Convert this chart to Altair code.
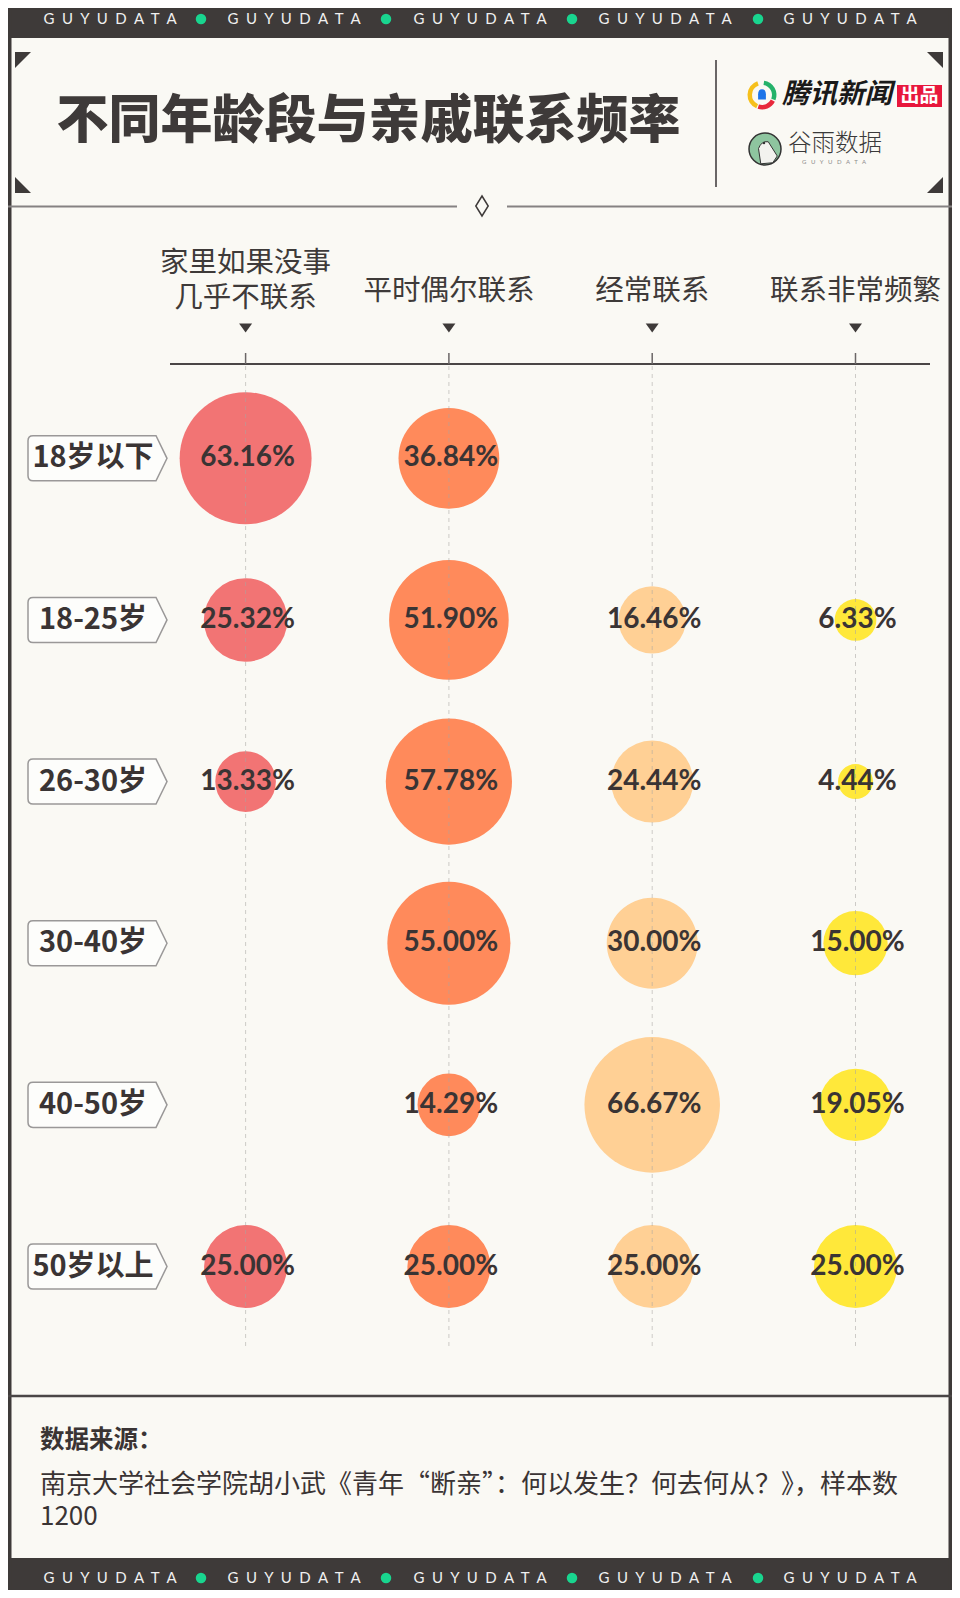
import math
import altair as alt
import pandas as pd

# ---------------- data ----------------
ages = ['18岁以下', '18-25岁', '26-30岁', '30-40岁', '40-50岁', '50岁以上']
cats = ['家里如果没事几乎不联系', '平时偶尔联系', '经常联系', '联系非常频繁']
header_wrapped = ['家里如果没事\n几乎不联系']
header_single = ['平时偶尔联系', '经常联系', '联系非常频繁']
cat_colors = ['#F27474', '#FF8A5B', '#FFD095', '#FFE83A']

v_rarely = [63.16, 25.32, 13.33, None, None, 25.00]
v_sometimes = [36.84, 51.90, 57.78, 55.00, 14.29, 25.00]
v_often = [None, 16.46, 24.44, 30.00, 66.67, 25.00]
v_very = [None, 6.33, 4.44, 15.00, 19.05, 25.00]

title = '不同年龄段与亲戚联系频率'
source_head = '数据来源：'
source_body = '南京大学社会学院胡小武《青年“断亲”：何以发生？何去何从？》，样本数\n1200'
brand = 'GUYUDATA'

# ---------------- geometry helpers (page px -> chart px; page has an 8px margin) ----------------
W, H = 944, 1582
M = 8


def X(v):
    return min(max(v - M, 0), W)


def Y(v):
    return min(max(v - M, 0), H)


DARK = '#3E3A39'
BG = '#FAF9F4'
TEXT = '#3A3434'
CJK = 'Noto Sans CJK SC'

rows = []
for c, vals in zip(cats, [v_rarely, v_sometimes, v_often, v_very]):
    for a, v in zip(ages, vals):
        if v is not None:
            rows.append({'cat': c, 'age': a, 'v': v, 'label': f'{v:.2f}%'})
df = pd.DataFrame(rows)
cat_df = pd.DataFrame({'cat': cats})
age_df = pd.DataFrame({'age': ages})
dummy = pd.DataFrame({'k': [0]})

xscale = alt.Scale(type='point', domain=cats, range=[X(245.6), X(855.5)], padding=0)
yscale = alt.Scale(type='point', domain=ages, range=[Y(458.3), Y(1266.5)], padding=0)
XE = alt.X('cat:N', scale=xscale, axis=None)
YE = alt.Y('age:N', scale=yscale, axis=None)

# circle diameter = 2 * k * sqrt(v); vega symbol size = diameter^2
k = 8.3
SIZE100 = 4 * k * k * 100


def base():
    return alt.Chart(dummy)


def rect(x1, x2, y1, y2, color):
    return base().mark_rect(color=color).encode(
        x=alt.value(X(x1)), x2=alt.value(X(x2)), y=alt.value(Y(y1)), y2=alt.value(Y(y2)))


def hline(x1, x2, y, color, w):
    return base().mark_rule(color=color, strokeWidth=w).encode(
        x=alt.value(X(x1)), x2=alt.value(X(x2)), y=alt.value(Y(y)))


def vline(x, y1, y2, color, w):
    return base().mark_rule(color=color, strokeWidth=w).encode(
        x=alt.value(X(x)), y=alt.value(Y(y1)), y2=alt.value(Y(y2)))


def text(s, x, y, size, color=TEXT, weight='normal', font=CJK, align='center', baseline='middle', **kw):
    return base().mark_text(text=s, fontSize=size, color=color, fontWeight=weight, font=font,
                            align=align, baseline=baseline, **kw).encode(
        x=alt.value(X(x)), y=alt.value(Y(y)))


def shape(path, x, y, px, fill, stroke=None, sw=0):
    kw = dict(shape=path, size=px * px, fill=fill, fillOpacity=1, opacity=1, strokeWidth=sw)
    if stroke:
        kw['stroke'] = stroke
    return base().mark_point(**kw).encode(x=alt.value(X(x)), y=alt.value(Y(y)))


layers = []

# frame / bands
layers.append(rect(0, 960, 0, 38, DARK))
layers.append(rect(0, 960, 1558, 1598, DARK))
layers.append(rect(0, 11.5, 0, 1598, DARK))
layers.append(rect(948.5, 960, 0, 1598, DARK))

brand_spaced = '\u00a0\u00a0'.join(list(brand))
for cx in [110, 294, 480, 665, 850]:
    layers.append(text(brand_spaced, cx, 19, 15, color='#F0F0F0', font='Lato'))
    layers.append(text(brand_spaced, cx, 1578, 15, color='#F0F0F0', font='Lato'))
for cx in [201, 386, 572, 758]:
    for cy in [19, 1578]:
        layers.append(base().mark_circle(color='#19D58F', size=110, opacity=1).encode(
            x=alt.value(X(cx)), y=alt.value(Y(cy))))

# title area
layers.append(text(title, 368.5, 122, 52, color=DARK, weight=900))
layers.append(shape('M -1 -1 L 1 -1 L -1 1 Z', 23, 60, 16, DARK))
layers.append(shape('M -1 -1 L 1 -1 L 1 1 Z', 935, 60, 16, DARK))
layers.append(shape('M -1 -1 L -1 1 L 1 1 Z', 23, 185, 16, DARK))
layers.append(shape('M 1 -1 L 1 1 L -1 1 Z', 935, 185, 16, DARK))
layers.append(vline(716, 60, 187, '#6A6666', 2))
layers.append(hline(0, 457, 206.5, '#858282', 2))
layers.append(hline(507, 960, 206.5, '#858282', 2))
layers.append(shape('M 0 -1 L 0.62 0 L 0 1 L -0.62 0 Z', 482, 206, 20, BG, DARK, 1.5))

# tencent news logo
for t1, t2, col in [(3.55, 5.95, '#F6C01B'), (0.15, 1.95, '#24B26A'), (2.05, 3.45, '#E8293C')]:
    layers.append(base().mark_arc(theta=t1, theta2=t2, radius=14.5, radius2=10, color=col).encode(
        x=alt.value(X(762)), y=alt.value(Y(95))))
layers.append(shape('M -0.6 0.7 L -0.6 -0.1 Q -0.6 -0.9 0 -0.9 Q 0.6 -0.9 0.6 -0.1 L 0.6 0.7 Z',
                    762, 95, 13, '#1D74E8'))
layers.append(text('腾讯新闻', 782, 95, 27.5, color='#1A1A1A', weight='bold', align='left',
                   fontStyle='italic'))
layers.append(rect(897, 942, 85, 107, '#E8173C'))
layers.append(text('出品', 919.5, 96, 19, color='#FFFFFF', weight='bold'))

# guyu data logo
layers.append(base().mark_circle(size=32 * 32, color='#8EC59F', opacity=1,
                                  stroke='#333333', strokeWidth=1.5).encode(
    x=alt.value(X(765)), y=alt.value(Y(149))))
layers.append(shape('M -0.35 0.92 L -0.5 -0.1 Q -0.3 -0.62 0.15 -0.55 L 0.75 0.4 L 0.45 0.85 Z',
                    766, 150, 30, '#F2F2EE', '#333333', 1))
layers.append(base().mark_circle(size=6, color='#333333', opacity=1).encode(
    x=alt.value(X(764)), y=alt.value(Y(143))))
layers.append(text('谷雨数据', 788, 144, 23.5, color='#3A3A3A', align='left', weight=300))
layers.append(text('\u00a0\u00a0\u00a0'.join(list(brand)), 834, 162, 6, color='#8A8A8A', font='Lato'))

# headers
hdr1 = pd.DataFrame({'cat': cats[:1], 't': header_wrapped})
hdr3 = pd.DataFrame({'cat': cats[1:], 't': header_single})
layers.append(alt.Chart(hdr1).mark_text(font=CJK, fontSize=28.5, color=DARK, baseline='top',
                                        lineBreak='\n', lineHeight=35).encode(
    x=XE, y=alt.value(Y(248.5)), text='t:N'))
layers.append(alt.Chart(hdr3).mark_text(font=CJK, fontSize=28.5, color=DARK, baseline='middle').encode(
    x=XE, y=alt.value(Y(290.5)), text='t:N'))
layers.append(alt.Chart(cat_df).mark_point(shape='M -1 -0.7 L 1 -0.7 L 0 0.7 Z', size=13 * 13,
                                           fill=DARK, fillOpacity=1, opacity=1, strokeWidth=0).encode(
    x=XE, y=alt.value(Y(328))))

# axis line, ticks
layers.append(hline(170, 930, 364, '#4A4646', 2))
layers.append(alt.Chart(cat_df).mark_rule(color='#6A6666', strokeWidth=1.5).encode(
    x=XE, y=alt.value(Y(353)), y2=alt.value(Y(364))))

# bubbles
layers.append(alt.Chart(df).mark_circle(opacity=1).encode(
    x=XE, y=YE,
    size=alt.Size('v:Q', scale=alt.Scale(domain=[0, 100], range=[0, SIZE100]), legend=None),
    color=alt.Color('cat:N', scale=alt.Scale(domain=cats, range=cat_colors), legend=None)))

# dashed guides
layers.append(alt.Chart(cat_df).mark_rule(color='#A8A6A2', strokeWidth=1, strokeDash=[4, 4], opacity=0.55).encode(
    x=XE, y=alt.value(Y(366)), y2=alt.value(Y(1348))))

# value labels
layers.append(alt.Chart(df).mark_text(font='Lato', fontWeight='bold', fontSize=28, color=TEXT,
                                      baseline='middle', dx=2).encode(x=XE, y=YE, text='label:N'))

# row labels
tag = ('M -0.928 -0.324 L 0.842 -0.324 L 1 0 L 0.842 0.324 L -0.928 0.324 '
       'Q -1 0.324 -1 0.252 L -1 -0.252 Q -1 -0.324 -0.928 -0.324 Z')
layers.append(alt.Chart(age_df).mark_point(shape=tag, size=139 ** 2, fill='#FDFDFB', fillOpacity=1,
                                           opacity=1, stroke='#9A9898', strokeWidth=1.5).encode(
    x=alt.value(X(97.5)), y=YE))
layers.append(alt.Chart(age_df).mark_text(font=CJK, fontWeight='bold', fontSize=29, color=TEXT,
                                          baseline='middle').encode(
    x=alt.value(X(93)), y=YE, text='age:N'))

# bottom source area
layers.append(hline(0, 960, 1396, '#4A4646', 2.5))
layers.append(text(source_head, 40, 1441, 24.5, color=TEXT, weight='bold', align='left'))
layers.append(text(source_body, 40, 1471.5, 26, color=TEXT, align='left', baseline='top',
                   lineBreak='\n', lineHeight=32))

chart = alt.layer(*layers).properties(
    width=W, height=H, background=BG, padding=0,
    autosize=alt.AutoSizeParams(type='none')
).configure_view(stroke=None)

chart.save('out.html', embed_options={'renderer': 'svg', 'actions': False})
